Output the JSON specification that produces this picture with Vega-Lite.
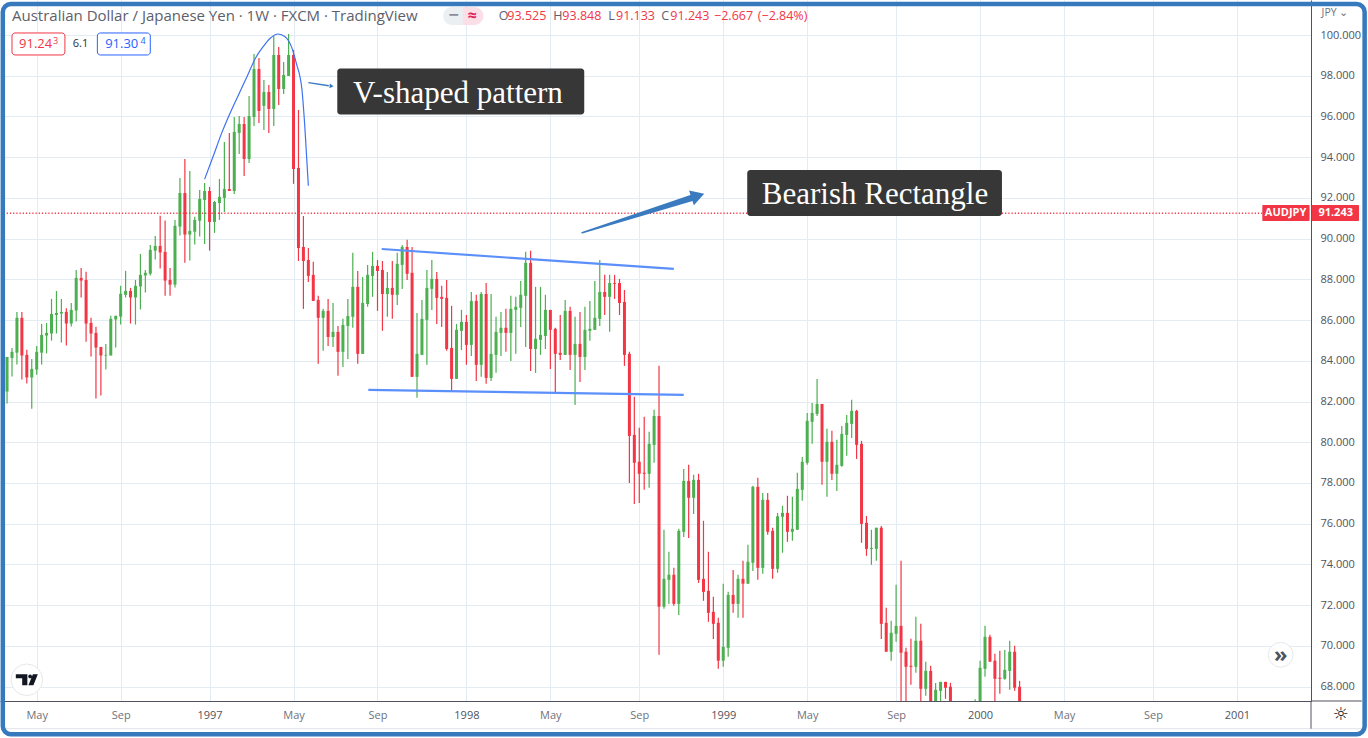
{
  "$schema": "https://vega.github.io/schema/vega-lite/v6.json",
  "width": 1311,
  "height": 701,
  "autosize": "none",
  "padding": {"left": 0, "top": 0, "right": 57, "bottom": 37},
  "background": "#ffffff",
  "config": {"view": {"stroke": null}},
  "datasets": {
    "candles": [
      {"w":"1996-03-25","o":82.49,"h":84.19,"l":81.90,"c":84.19},
      {"w":"1996-04-01","o":84.14,"h":84.63,"l":83.23,"c":84.44},
      {"w":"1996-04-08","o":84.40,"h":86.40,"l":83.82,"c":86.11},
      {"w":"1996-04-15","o":86.11,"h":86.40,"l":83.08,"c":84.26},
      {"w":"1996-04-22","o":84.29,"h":84.54,"l":82.88,"c":83.18},
      {"w":"1996-04-29","o":83.18,"h":84.09,"l":81.65,"c":83.60},
      {"w":"1996-05-06","o":83.57,"h":84.73,"l":83.32,"c":84.44},
      {"w":"1996-05-13","o":84.40,"h":85.81,"l":83.82,"c":85.27},
      {"w":"1996-05-20","o":85.24,"h":85.86,"l":84.36,"c":85.37},
      {"w":"1996-05-27","o":85.34,"h":87.04,"l":84.99,"c":86.30},
      {"w":"1996-06-03","o":86.25,"h":87.43,"l":85.34,"c":86.35},
      {"w":"1996-06-10","o":86.32,"h":87.04,"l":84.90,"c":86.40},
      {"w":"1996-06-17","o":86.40,"h":86.58,"l":84.75,"c":85.83},
      {"w":"1996-06-24","o":85.83,"h":86.84,"l":85.68,"c":86.50},
      {"w":"1996-07-01","o":86.47,"h":88.46,"l":85.93,"c":88.07},
      {"w":"1996-07-08","o":88.07,"h":88.56,"l":87.11,"c":87.94},
      {"w":"1996-07-15","o":87.97,"h":88.37,"l":84.94,"c":85.83},
      {"w":"1996-07-22","o":85.86,"h":86.11,"l":84.21,"c":85.34},
      {"w":"1996-07-29","o":85.37,"h":85.67,"l":82.15,"c":84.65},
      {"w":"1996-08-05","o":84.68,"h":84.68,"l":82.29,"c":84.26},
      {"w":"1996-08-12","o":84.26,"h":84.83,"l":83.57,"c":84.29},
      {"w":"1996-08-19","o":84.26,"h":86.21,"l":84.26,"c":86.06},
      {"w":"1996-08-26","o":86.03,"h":86.21,"l":84.65,"c":86.21},
      {"w":"1996-09-02","o":86.17,"h":87.68,"l":85.78,"c":87.29},
      {"w":"1996-09-09","o":87.24,"h":88.42,"l":87.11,"c":87.43},
      {"w":"1996-09-16","o":87.43,"h":87.58,"l":85.83,"c":87.11},
      {"w":"1996-09-23","o":87.11,"h":87.97,"l":85.78,"c":87.68},
      {"w":"1996-09-30","o":87.65,"h":89.25,"l":86.52,"c":88.22},
      {"w":"1996-10-07","o":88.19,"h":88.46,"l":87.35,"c":88.32},
      {"w":"1996-10-14","o":88.28,"h":89.69,"l":88.19,"c":89.45},
      {"w":"1996-10-21","o":89.41,"h":90.13,"l":88.97,"c":89.64},
      {"w":"1996-10-28","o":89.64,"h":91.12,"l":88.53,"c":89.32},
      {"w":"1996-11-04","o":89.35,"h":90.89,"l":87.20,"c":87.94},
      {"w":"1996-11-11","o":87.97,"h":88.56,"l":87.20,"c":87.74},
      {"w":"1996-11-18","o":87.74,"h":90.92,"l":87.60,"c":90.63},
      {"w":"1996-11-25","o":90.59,"h":92.98,"l":90.15,"c":92.24},
      {"w":"1996-12-02","o":92.24,"h":93.91,"l":88.82,"c":90.20},
      {"w":"1996-12-09","o":90.20,"h":93.32,"l":88.92,"c":90.38},
      {"w":"1996-12-16","o":90.34,"h":91.08,"l":89.71,"c":90.92},
      {"w":"1996-12-23","o":90.88,"h":92.39,"l":90.10,"c":91.95},
      {"w":"1996-12-30","o":91.90,"h":92.73,"l":89.74,"c":92.34},
      {"w":"1997-01-06","o":92.34,"h":92.54,"l":89.41,"c":90.82},
      {"w":"1997-01-13","o":90.82,"h":91.85,"l":90.28,"c":91.80},
      {"w":"1997-01-20","o":91.75,"h":92.93,"l":90.92,"c":92.05},
      {"w":"1997-01-27","o":92.00,"h":94.75,"l":91.31,"c":92.44},
      {"w":"1997-02-03","o":92.44,"h":95.19,"l":92.34,"c":92.34},
      {"w":"1997-02-10","o":92.34,"h":95.97,"l":92.19,"c":95.24},
      {"w":"1997-02-17","o":95.19,"h":96.02,"l":94.16,"c":95.63},
      {"w":"1997-02-24","o":95.63,"h":95.97,"l":93.08,"c":93.91},
      {"w":"1997-03-03","o":93.91,"h":97.01,"l":93.72,"c":96.02},
      {"w":"1997-03-10","o":95.97,"h":99.07,"l":95.53,"c":98.33},
      {"w":"1997-03-17","o":98.33,"h":98.87,"l":95.68,"c":96.27},
      {"w":"1997-03-24","o":96.52,"h":97.79,"l":95.34,"c":97.20},
      {"w":"1997-03-31","o":97.20,"h":97.55,"l":95.19,"c":96.37},
      {"w":"1997-04-07","o":96.37,"h":99.95,"l":95.53,"c":99.02},
      {"w":"1997-04-14","o":99.02,"h":99.41,"l":96.56,"c":97.35},
      {"w":"1997-04-21","o":97.35,"h":98.68,"l":97.10,"c":98.04},
      {"w":"1997-04-28","o":97.99,"h":100.05,"l":97.99,"c":99.02},
      {"w":"1997-05-05","o":99.02,"h":99.27,"l":92.69,"c":93.42},
      {"w":"1997-05-12","o":93.47,"h":96.32,"l":88.90,"c":89.54},
      {"w":"1997-05-19","o":89.59,"h":91.11,"l":86.55,"c":88.90},
      {"w":"1997-05-26","o":88.95,"h":89.54,"l":87.87,"c":88.17},
      {"w":"1997-06-02","o":88.22,"h":88.86,"l":86.94,"c":86.94},
      {"w":"1997-06-09","o":86.99,"h":87.19,"l":83.85,"c":86.11},
      {"w":"1997-06-16","o":86.11,"h":86.55,"l":84.49,"c":86.45},
      {"w":"1997-06-23","o":86.45,"h":87.04,"l":84.73,"c":85.17},
      {"w":"1997-06-30","o":85.17,"h":86.84,"l":84.68,"c":85.42},
      {"w":"1997-07-07","o":85.42,"h":85.71,"l":83.26,"c":84.44},
      {"w":"1997-07-14","o":84.44,"h":86.06,"l":83.70,"c":85.76},
      {"w":"1997-07-21","o":85.71,"h":87.04,"l":84.09,"c":86.20},
      {"w":"1997-07-28","o":86.16,"h":89.30,"l":85.62,"c":87.63},
      {"w":"1997-08-04","o":87.63,"h":88.41,"l":83.85,"c":84.34},
      {"w":"1997-08-11","o":84.34,"h":88.12,"l":84.34,"c":86.84},
      {"w":"1997-08-18","o":86.79,"h":88.71,"l":86.65,"c":88.22},
      {"w":"1997-08-25","o":88.17,"h":89.35,"l":87.14,"c":88.66},
      {"w":"1997-09-01","o":88.66,"h":88.95,"l":86.45,"c":88.41},
      {"w":"1997-09-08","o":88.46,"h":88.90,"l":85.47,"c":87.28},
      {"w":"1997-09-15","o":87.28,"h":88.36,"l":86.16,"c":87.58},
      {"w":"1997-09-22","o":87.58,"h":88.90,"l":86.06,"c":87.24},
      {"w":"1997-09-29","o":87.24,"h":89.30,"l":86.74,"c":88.76},
      {"w":"1997-10-06","o":88.71,"h":89.69,"l":87.53,"c":89.59},
      {"w":"1997-10-13","o":89.59,"h":89.94,"l":87.97,"c":88.27},
      {"w":"1997-10-20","o":88.32,"h":89.59,"l":83.21,"c":83.21},
      {"w":"1997-10-27","o":83.21,"h":86.35,"l":82.18,"c":84.34},
      {"w":"1997-11-03","o":84.29,"h":86.99,"l":84.29,"c":86.06},
      {"w":"1997-11-10","o":86.01,"h":88.46,"l":83.80,"c":87.58},
      {"w":"1997-11-17","o":87.53,"h":88.95,"l":86.50,"c":88.02},
      {"w":"1997-11-24","o":88.02,"h":88.36,"l":85.81,"c":87.09},
      {"w":"1997-12-01","o":87.14,"h":87.68,"l":85.66,"c":87.04},
      {"w":"1997-12-08","o":87.09,"h":87.97,"l":84.49,"c":84.58},
      {"w":"1997-12-15","o":84.63,"h":86.70,"l":82.52,"c":83.11},
      {"w":"1997-12-22","o":83.11,"h":85.81,"l":83.11,"c":85.52},
      {"w":"1997-12-29","o":85.47,"h":86.50,"l":84.53,"c":85.91},
      {"w":"1998-01-05","o":85.91,"h":86.25,"l":83.80,"c":84.78},
      {"w":"1998-01-12","o":84.78,"h":87.38,"l":84.24,"c":86.94},
      {"w":"1998-01-19","o":86.94,"h":87.24,"l":83.01,"c":83.80},
      {"w":"1998-01-26","o":83.80,"h":87.38,"l":83.21,"c":87.28},
      {"w":"1998-02-02","o":87.28,"h":87.82,"l":82.87,"c":83.16},
      {"w":"1998-02-09","o":83.16,"h":87.28,"l":83.01,"c":84.34},
      {"w":"1998-02-16","o":84.29,"h":86.16,"l":83.41,"c":85.42},
      {"w":"1998-02-23","o":85.37,"h":86.40,"l":84.24,"c":85.62},
      {"w":"1998-03-02","o":85.62,"h":86.55,"l":84.44,"c":85.37},
      {"w":"1998-03-09","o":85.37,"h":87.19,"l":83.99,"c":86.55},
      {"w":"1998-03-16","o":86.50,"h":87.14,"l":84.34,"c":86.65},
      {"w":"1998-03-23","o":86.60,"h":87.92,"l":85.66,"c":87.24},
      {"w":"1998-03-30","o":87.19,"h":89.35,"l":84.68,"c":88.81},
      {"w":"1998-04-06","o":88.81,"h":89.40,"l":83.50,"c":84.58},
      {"w":"1998-04-13","o":84.58,"h":87.63,"l":83.41,"c":85.08},
      {"w":"1998-04-20","o":85.03,"h":87.63,"l":84.29,"c":85.27},
      {"w":"1998-04-27","o":85.22,"h":87.24,"l":84.58,"c":86.50},
      {"w":"1998-05-04","o":86.50,"h":86.50,"l":83.60,"c":85.52},
      {"w":"1998-05-11","o":85.57,"h":85.62,"l":82.37,"c":84.34},
      {"w":"1998-05-18","o":84.39,"h":86.25,"l":84.04,"c":84.29},
      {"w":"1998-05-25","o":84.29,"h":86.99,"l":84.29,"c":86.45},
      {"w":"1998-06-01","o":86.45,"h":86.65,"l":83.55,"c":84.29},
      {"w":"1998-06-08","o":84.29,"h":86.16,"l":81.83,"c":84.83},
      {"w":"1998-06-15","o":84.83,"h":86.40,"l":82.96,"c":84.19},
      {"w":"1998-06-22","o":84.19,"h":86.65,"l":83.55,"c":85.52},
      {"w":"1998-06-29","o":85.47,"h":86.94,"l":84.98,"c":85.57},
      {"w":"1998-07-06","o":85.52,"h":87.92,"l":85.52,"c":86.11},
      {"w":"1998-07-13","o":86.06,"h":88.95,"l":85.71,"c":87.38},
      {"w":"1998-07-20","o":87.38,"h":88.22,"l":86.25,"c":87.14},
      {"w":"1998-07-27","o":87.14,"h":88.22,"l":85.42,"c":87.82},
      {"w":"1998-08-03","o":87.82,"h":88.22,"l":87.04,"c":87.78},
      {"w":"1998-08-10","o":87.82,"h":88.02,"l":86.25,"c":86.84},
      {"w":"1998-08-17","o":86.89,"h":87.48,"l":83.75,"c":84.29},
      {"w":"1998-08-24","o":84.34,"h":84.44,"l":78.00,"c":80.31},
      {"w":"1998-08-31","o":80.36,"h":82.23,"l":76.97,"c":78.99},
      {"w":"1998-09-07","o":79.04,"h":80.71,"l":77.02,"c":78.45},
      {"w":"1998-09-14","o":78.50,"h":81.25,"l":77.66,"c":78.45},
      {"w":"1998-09-21","o":78.45,"h":80.51,"l":77.76,"c":79.92},
      {"w":"1998-09-28","o":79.87,"h":81.59,"l":78.99,"c":81.29},
      {"w":"1998-10-05","o":81.29,"h":83.75,"l":69.56,"c":71.92},
      {"w":"1998-10-12","o":71.92,"h":75.70,"l":71.82,"c":73.29},
      {"w":"1998-10-19","o":73.24,"h":74.62,"l":72.06,"c":73.49},
      {"w":"1998-10-26","o":73.49,"h":73.83,"l":71.97,"c":72.06},
      {"w":"1998-11-02","o":72.06,"h":75.75,"l":71.52,"c":75.65},
      {"w":"1998-11-09","o":75.60,"h":78.69,"l":75.35,"c":78.10},
      {"w":"1998-11-16","o":78.10,"h":78.89,"l":75.30,"c":77.27},
      {"w":"1998-11-23","o":77.27,"h":78.40,"l":76.48,"c":78.15},
      {"w":"1998-11-30","o":78.15,"h":78.45,"l":73.09,"c":73.24},
      {"w":"1998-12-07","o":73.29,"h":76.14,"l":72.21,"c":72.65},
      {"w":"1998-12-14","o":72.70,"h":74.62,"l":71.18,"c":71.62},
      {"w":"1998-12-21","o":71.67,"h":72.41,"l":70.34,"c":71.08},
      {"w":"1998-12-28","o":71.13,"h":71.38,"l":68.87,"c":69.27},
      {"w":"1999-01-04","o":69.27,"h":73.05,"l":68.97,"c":69.95},
      {"w":"1999-01-11","o":69.90,"h":72.65,"l":69.46,"c":72.50},
      {"w":"1999-01-18","o":72.50,"h":73.73,"l":71.62,"c":72.06},
      {"w":"1999-01-25","o":72.06,"h":73.49,"l":71.38,"c":73.29},
      {"w":"1999-02-01","o":73.29,"h":74.18,"l":71.38,"c":73.05},
      {"w":"1999-02-08","o":73.05,"h":74.96,"l":73.05,"c":74.13},
      {"w":"1999-02-15","o":74.08,"h":77.86,"l":73.68,"c":77.81},
      {"w":"1999-02-22","o":77.81,"h":78.25,"l":73.24,"c":73.83},
      {"w":"1999-03-01","o":73.83,"h":77.51,"l":73.54,"c":77.17},
      {"w":"1999-03-08","o":77.17,"h":77.51,"l":75.45,"c":75.60},
      {"w":"1999-03-15","o":75.65,"h":75.80,"l":73.29,"c":73.78},
      {"w":"1999-03-22","o":73.78,"h":76.53,"l":73.59,"c":76.36},
      {"w":"1999-03-29","o":76.34,"h":76.88,"l":74.57,"c":76.53},
      {"w":"1999-04-05","o":76.53,"h":77.37,"l":75.11,"c":75.60},
      {"w":"1999-04-12","o":75.60,"h":77.32,"l":75.16,"c":75.75},
      {"w":"1999-04-19","o":75.70,"h":78.50,"l":75.70,"c":77.71},
      {"w":"1999-04-26","o":77.66,"h":79.28,"l":77.12,"c":79.04},
      {"w":"1999-05-03","o":78.99,"h":81.44,"l":78.89,"c":81.05},
      {"w":"1999-05-10","o":81.00,"h":81.93,"l":79.92,"c":81.44},
      {"w":"1999-05-17","o":81.39,"h":83.11,"l":81.29,"c":81.88},
      {"w":"1999-05-24","o":81.88,"h":81.88,"l":77.91,"c":79.04},
      {"w":"1999-05-31","o":79.04,"h":80.66,"l":77.32,"c":80.02},
      {"w":"1999-06-07","o":80.02,"h":80.56,"l":78.15,"c":78.45},
      {"w":"1999-06-14","o":78.45,"h":80.12,"l":77.61,"c":78.89},
      {"w":"1999-06-21","o":78.84,"h":80.80,"l":78.79,"c":80.41},
      {"w":"1999-06-28","o":80.36,"h":81.34,"l":79.33,"c":80.95},
      {"w":"1999-07-05","o":80.90,"h":82.08,"l":80.21,"c":81.54},
      {"w":"1999-07-12","o":81.54,"h":81.59,"l":79.18,"c":79.87},
      {"w":"1999-07-19","o":79.92,"h":80.07,"l":75.06,"c":75.99},
      {"w":"1999-07-26","o":76.04,"h":76.38,"l":74.42,"c":74.76},
      {"w":"1999-08-02","o":74.76,"h":75.70,"l":73.98,"c":74.81},
      {"w":"1999-08-09","o":74.76,"h":75.80,"l":74.18,"c":75.80},
      {"w":"1999-08-16","o":75.80,"h":75.89,"l":70.34,"c":71.08},
      {"w":"1999-08-23","o":71.13,"h":71.87,"l":69.71,"c":69.71},
      {"w":"1999-08-30","o":69.71,"h":71.23,"l":69.27,"c":70.64},
      {"w":"1999-09-06","o":70.59,"h":73.00,"l":70.20,"c":70.98},
      {"w":"1999-09-13","o":70.98,"h":74.18,"l":67.10,"c":69.66},
      {"w":"1999-09-20","o":69.71,"h":69.90,"l":67.10,"c":68.97},
      {"w":"1999-09-27","o":69.02,"h":70.35,"l":68.09,"c":68.97},
      {"w":"1999-10-04","o":68.97,"h":71.43,"l":68.68,"c":70.25},
      {"w":"1999-10-11","o":70.25,"h":71.08,"l":67.10,"c":67.89},
      {"w":"1999-10-18","o":67.89,"h":69.22,"l":67.55,"c":68.77},
      {"w":"1999-10-25","o":68.77,"h":69.02,"l":66.86,"c":67.10},
      {"w":"1999-11-01","o":67.10,"h":68.18,"l":66.86,"c":67.84},
      {"w":"1999-11-08","o":67.79,"h":68.23,"l":67.10,"c":68.23},
      {"w":"1999-11-15","o":68.23,"h":68.23,"l":67.40,"c":67.94},
      {"w":"1999-11-22","o":67.99,"h":68.18,"l":66.86,"c":67.10},
      {"w":"1999-11-29","o":67.10,"h":67.20,"l":66.30,"c":66.60},
      {"w":"1999-12-06","o":66.60,"h":67.10,"l":66.30,"c":66.90},
      {"w":"1999-12-13","o":66.90,"h":67.20,"l":66.00,"c":66.30},
      {"w":"1999-12-20","o":66.30,"h":66.90,"l":66.00,"c":66.70},
      {"w":"1999-12-27","o":66.70,"h":67.38,"l":66.40,"c":67.10},
      {"w":"2000-01-03","o":67.10,"h":69.27,"l":66.61,"c":68.92},
      {"w":"2000-01-10","o":68.87,"h":70.98,"l":68.48,"c":70.44},
      {"w":"2000-01-17","o":70.44,"h":70.54,"l":69.22,"c":69.22},
      {"w":"2000-01-24","o":69.27,"h":69.61,"l":67.10,"c":68.38},
      {"w":"2000-01-31","o":68.43,"h":69.76,"l":67.64,"c":68.38},
      {"w":"2000-02-07","o":68.38,"h":69.80,"l":68.33,"c":68.82},
      {"w":"2000-02-14","o":68.77,"h":70.25,"l":67.84,"c":69.71},
      {"w":"2000-02-21","o":69.71,"h":70.00,"l":67.79,"c":67.94},
      {"w":"2000-02-28","o":67.99,"h":68.28,"l":66.86,"c":67.10}
    ],
    "trendlines": [
      {"name":"top","w":"1997-09-07","p":89.49},
      {"name":"top","w":"1998-10-26","p":88.51},
      {"name":"bottom","w":"1997-08-19","p":82.57},
      {"name":"bottom","w":"1998-11-09","p":82.33}
    ],
    "arc": [
      {"w":"1996-12-30","p":92.92},
      {"w":"1997-01-11","p":94.03},
      {"w":"1997-01-23","p":95.17},
      {"w":"1997-02-04","p":96.16},
      {"w":"1997-02-16","p":97.06},
      {"w":"1997-02-28","p":97.95},
      {"w":"1997-03-12","p":98.86},
      {"w":"1997-03-23","p":99.43},
      {"w":"1997-04-02","p":99.84},
      {"w":"1997-04-13","p":100.05},
      {"w":"1997-04-23","p":99.92},
      {"w":"1997-05-02","p":99.43},
      {"w":"1997-05-09","p":98.61},
      {"w":"1997-05-17","p":97.30},
      {"w":"1997-05-21","p":95.50},
      {"w":"1997-05-26","p":92.60}
    ]
  },
  "encoding": {
    "x": {
      "field": "w",
      "type": "temporal",
      "scale": {"type": "utc", "domain": ["1996-03-15", "2001-04-16"], "nice": false, "padding": 0},
      "axis": {
        "title": null,
        "grid": true,
        "gridColor": "#e4ecf3",
        "gridWidth": 1,
        "ticks": false,
        "domainColor": "#50535e",
        "domainWidth": 1,
        "labelFont": "Open Sans",
        "labelFontSize": 11,
        "labelColor": {"condition": {"test": "utcmonth(datum.value) === 0", "value": "#50535e"}, "value": "#6f727c"},
        "labelPadding": 8,
        "labelOverlap": false,
        "labelFlush": false,
        "values": ["1996-05-06", "1996-09-02", "1997-01-06", "1997-05-05", "1997-09-01", "1998-01-05", "1998-05-04", "1998-09-07", "1999-01-04", "1999-05-03", "1999-09-06", "2000-01-03", "2000-05-01", "2000-09-04", "2001-01-01"],
        "labelExpr": "utcmonth(datum.value) === 0 ? utcFormat(datum.value, '%Y') : utcFormat(datum.value, '%b')"
      }
    },
    "y": {
      "field": "p",
      "type": "quantitative",
      "scale": {"domain": [67.29, 101.72], "nice": false, "zero": false},
      "axis": {
        "orient": "right",
        "title": null,
        "grid": true,
        "gridColor": "#e4ecf3",
        "gridWidth": 1,
        "ticks": false,
        "domainColor": "#50535e",
        "domainWidth": 1,
        "labelFont": "Open Sans",
        "labelFontSize": 11,
        "labelColor": "#50535e",
        "labelPadding": 9,
        "labelOverlap": false,
        "labelFlush": false,
        "format": ".3f",
        "values": [68, 70, 72, 74, 76, 78, 80, 82, 84, 86, 88, 90, 92, 94, 96, 98, 100]
      }
    }
  },
  "layer": [
    {
      "data": {"name": "candles"},
      "mark": {"type": "rule", "strokeWidth": 1.2, "clip": true},
      "encoding": {
        "y": {
          "field": "l",
          "type": "quantitative",
          "axis": {
            "orient": "right",
            "title": null,
            "grid": true,
            "gridColor": "#e4ecf3",
            "gridWidth": 1,
            "ticks": false,
            "domainColor": "#50535e",
            "domainWidth": 1,
            "labelFont": "Open Sans",
            "labelFontSize": 11,
            "labelColor": "#50535e",
            "labelPadding": 9,
            "labelOverlap": false,
            "labelFlush": false,
            "format": ".3f",
            "values": [68, 70, 72, 74, 76, 78, 80, 82, 84, 86, 88, 90, 92, 94, 96, 98, 100]
          }
        },
        "y2": {"field": "h"},
        "color": {"condition": {"test": "datum.c >= datum.o", "value": "#4caf50"}, "value": "#f23645"}
      }
    },
    {
      "data": {"name": "candles"},
      "mark": {"type": "bar", "size": 3, "clip": true},
      "encoding": {
        "y": {
          "field": "o",
          "type": "quantitative",
          "axis": {
            "orient": "right",
            "title": null,
            "grid": true,
            "gridColor": "#e4ecf3",
            "gridWidth": 1,
            "ticks": false,
            "domainColor": "#50535e",
            "domainWidth": 1,
            "labelFont": "Open Sans",
            "labelFontSize": 11,
            "labelColor": "#50535e",
            "labelPadding": 9,
            "labelOverlap": false,
            "labelFlush": false,
            "format": ".3f",
            "values": [68, 70, 72, 74, 76, 78, 80, 82, 84, 86, 88, 90, 92, 94, 96, 98, 100]
          }
        },
        "y2": {"field": "c"},
        "color": {"condition": {"test": "datum.c >= datum.o", "value": "#4caf50"}, "value": "#f23645"}
      }
    },
    {
      "data": {"values": [{"w": "1996-03-20", "w2": "2001-02-06", "p": 91.243}]},
      "mark": {"type": "rule", "color": "#f23645", "strokeWidth": 1.4, "strokeDash": [1.2, 2]},
      "encoding": {"x2": {"field": "w2"}}
    },
    {
      "data": {"name": "trendlines"},
      "mark": {"type": "line", "color": "#5b8ff9", "strokeWidth": 2.2},
      "encoding": {"detail": {"field": "name"}}
    },
    {
      "data": {"name": "arc"},
      "mark": {"type": "line", "color": "#3f72f0", "strokeWidth": 1.2, "interpolate": "monotone"},
      "encoding": {}
    },
    {
      "data": {"values": [{"w": "1997-05-26", "p": 97.66}, {"w": "1997-06-24", "p": 97.51}]},
      "mark": {"type": "line", "color": "#3a7abf", "strokeWidth": 1.4},
      "encoding": {}
    },
    {
      "data": {"values": [{"w": "1997-06-28", "p": 97.49}]},
      "mark": {"type": "point", "shape": "triangle-right", "filled": true, "color": "#3a7abf", "size": 22, "opacity": 1, "angle": 5},
      "encoding": {}
    },
    {
      "data": {"values": [{"w": "1998-06-18", "p": 90.29}, {"w": "1998-11-25", "p": 92.05}]},
      "mark": {"type": "trail", "color": "#3a7abf"},
      "encoding": {
        "size": {"field": "w", "type": "temporal", "scale": {"range": [1.5, 6.5]}, "legend": null}
      }
    },
    {
      "data": {"values": [{"w": "1998-11-29", "p": 92.10}]},
      "mark": {"type": "point", "shape": "triangle-right", "filled": true, "color": "#3a7abf", "size": 240, "opacity": 1, "angle": -18},
      "encoding": {}
    },
    {
      "data": {"values": [
        {"w": "1997-07-06", "w2": "1998-06-21", "p": 98.35, "p2": 96.10},
        {"w": "1999-02-07", "w2": "2000-02-03", "p": 93.37, "p2": 91.11}
      ]},
      "mark": {"type": "rect", "color": "#333333", "opacity": 0.98, "cornerRadius": 3},
      "encoding": {"x2": {"field": "w2"}, "y2": {"field": "p2"}}
    },
    {
      "data": {"values": [
        {"w": "1997-12-24", "p": 97.20, "label": "V-shaped pattern"},
        {"w": "1999-08-07", "p": 92.24, "label": "Bearish Rectangle"}
      ]},
      "mark": {"type": "text", "font": "Liberation Serif", "fontSize": 31, "color": "#ffffff", "align": "center", "baseline": "middle", "letterSpacing": 0.6, "dy": 1.5},
      "encoding": {"text": {"field": "label"}}
    },
    {
      "data": {"values": [{"w": "1996-04-01", "p": 100.93, "label": "Australian Dollar / Japanese Yen · 1W · FXCM · TradingView"}]},
      "mark": {"type": "text", "font": "Open Sans", "fontSize": 15, "letterSpacing": 0.36, "color": "#5d606b", "align": "left", "baseline": "middle"},
      "encoding": {"text": {"field": "label"}}
    },
    {
      "data": {"values": [{"w": "1997-12-03", "w2": "1997-12-31", "p": 101.38, "p2": 100.49}]},
      "mark": {"type": "rect", "color": "#eceff2", "cornerRadiusTopLeft": 9, "cornerRadiusBottomLeft": 9},
      "encoding": {"x2": {"field": "w2"}, "y2": {"field": "p2"}}
    },
    {
      "data": {"values": [{"w": "1997-12-31", "w2": "1998-01-29", "p": 101.38, "p2": 100.49}]},
      "mark": {"type": "rect", "color": "#fbdfe6", "cornerRadiusTopRight": 9, "cornerRadiusBottomRight": 9},
      "encoding": {"x2": {"field": "w2"}, "y2": {"field": "p2"}}
    },
    {
      "data": {"values": [{"w": "1997-12-18", "p": 100.93, "label": "−"}]},
      "mark": {"type": "text", "font": "Open Sans", "fontSize": 18, "fontWeight": "bold", "color": "#8a8d96", "align": "center", "baseline": "middle"},
      "encoding": {"text": {"field": "label"}}
    },
    {
      "data": {"values": [{"w": "1998-01-13", "p": 100.93, "label": "≈"}]},
      "mark": {"type": "text", "font": "Open Sans", "fontSize": 16, "fontWeight": "bold", "color": "#e0245e", "align": "center", "baseline": "middle"},
      "encoding": {"text": {"field": "label"}}
    },
    {
      "data": {"values": [
        {"w": "1998-02-20", "p": 100.93, "label": "O"},
        {"w": "1998-05-08", "p": 100.93, "label": "H"},
        {"w": "1998-07-25", "p": 100.93, "label": "L"},
        {"w": "1998-10-08", "p": 100.93, "label": "C"}
      ]},
      "mark": {"type": "text", "font": "Open Sans", "fontSize": 12.5, "color": "#5d606b", "align": "left", "baseline": "middle"},
      "encoding": {"text": {"field": "label"}}
    },
    {
      "data": {"values": [
        {"w": "1998-03-04", "p": 100.93, "label": "93.525"},
        {"w": "1998-05-21", "p": 100.93, "label": "93.848"},
        {"w": "1998-08-05", "p": 100.93, "label": "91.133"},
        {"w": "1998-10-21", "p": 100.93, "label": "91.243"},
        {"w": "1998-12-22", "p": 100.93, "label": "−2.667"},
        {"w": "1999-02-22", "p": 100.93, "label": "(−2.84%)"}
      ]},
      "mark": {"type": "text", "font": "Open Sans", "fontSize": 12.5, "color": "#f23645", "align": "left", "baseline": "middle"},
      "encoding": {"text": {"field": "label"}}
    },
    {
      "data": {"values": [{"w": "1996-04-01", "w2": "1996-06-15", "p": 100.10, "p2": 99.02}]},
      "mark": {"type": "rect", "fill": "#ffffff", "stroke": "#f23645", "strokeWidth": 1, "cornerRadius": 3},
      "encoding": {"x2": {"field": "w2"}, "y2": {"field": "p2"}}
    },
    {
      "data": {"values": [{"w": "1996-07-31", "w2": "1996-10-14", "p": 100.10, "p2": 99.02}]},
      "mark": {"type": "rect", "fill": "#ffffff", "stroke": "#2962ff", "strokeWidth": 1, "cornerRadius": 3},
      "encoding": {"x2": {"field": "w2"}, "y2": {"field": "p2"}}
    },
    {
      "data": {"values": [{"w": "1996-04-11", "p": 99.56, "label": "91.24"}]},
      "mark": {"type": "text", "font": "Open Sans", "fontSize": 13, "color": "#f23645", "align": "left", "baseline": "middle"},
      "encoding": {"text": {"field": "label"}}
    },
    {
      "data": {"values": [{"w": "1996-05-29", "p": 99.71, "label": "3"}]},
      "mark": {"type": "text", "font": "Open Sans", "fontSize": 9, "color": "#f23645", "align": "left", "baseline": "middle"},
      "encoding": {"text": {"field": "label"}}
    },
    {
      "data": {"values": [{"w": "1996-08-11", "p": 99.56, "label": "91.30"}]},
      "mark": {"type": "text", "font": "Open Sans", "fontSize": 13, "color": "#2962ff", "align": "left", "baseline": "middle"},
      "encoding": {"text": {"field": "label"}}
    },
    {
      "data": {"values": [{"w": "1996-09-30", "p": 99.71, "label": "4"}]},
      "mark": {"type": "text", "font": "Open Sans", "fontSize": 9, "color": "#2962ff", "align": "left", "baseline": "middle"},
      "encoding": {"text": {"field": "label"}}
    },
    {
      "data": {"values": [{"w": "1996-07-07", "p": 99.56, "label": "6.1"}]},
      "mark": {"type": "text", "font": "Open Sans", "fontSize": 11, "color": "#2a2e39", "align": "center", "baseline": "middle"},
      "encoding": {"text": {"field": "label"}}
    },
    {
      "data": {"values": [{"w": "2001-02-06", "w2": "2001-04-14", "p": 91.65, "p2": 90.87}]},
      "mark": {"type": "rect", "color": "#f23645", "cornerRadius": 1},
      "encoding": {"x2": {"field": "w2"}, "y2": {"field": "p2"}}
    },
    {
      "data": {"values": [{"w": "2001-04-17", "w2": "2001-06-23", "p": 91.65, "p2": 90.87}]},
      "mark": {"type": "rect", "color": "#f23645", "cornerRadius": 1},
      "encoding": {"x2": {"field": "w2"}, "y2": {"field": "p2"}}
    },
    {
      "data": {"values": [
        {"w": "2001-03-11", "p": 91.243, "label": "AUDJPY"},
        {"w": "2001-05-21", "p": 91.243, "label": "91.243"}
      ]},
      "mark": {"type": "text", "font": "Open Sans", "fontSize": 11, "fontWeight": "bold", "color": "#ffffff", "align": "center", "baseline": "middle"},
      "encoding": {"text": {"field": "label"}}
    },
    {
      "data": {"values": [{"w": "2001-05-01", "p": 101.08, "label": "JPY ⌄"}]},
      "mark": {"type": "text", "font": "Open Sans", "fontSize": 10.5, "color": "#6f727c", "align": "left", "baseline": "middle"},
      "encoding": {"text": {"field": "label"}}
    },
    {
      "data": {"values": [{"w": "2001-03-04", "p": 69.56}]},
      "mark": {"type": "point", "shape": "circle", "filled": true, "fill": "#ffffff", "stroke": "#e6e8ec", "strokeWidth": 1, "size": 616, "opacity": 1},
      "encoding": {}
    },
    {
      "data": {"values": [{"w": "2001-03-04", "p": 69.56, "label": "»"}]},
      "mark": {"type": "text", "font": "Open Sans", "fontSize": 22, "fontWeight": "bold", "color": "#50535e", "align": "center", "baseline": "middle"},
      "encoding": {"text": {"field": "label"}}
    },
    {
      "data": {"values": [{"w": "1996-04-22", "p": 68.33}]},
      "mark": {"type": "point", "shape": "circle", "filled": true, "fill": "#ffffff", "stroke": "#e6e8ec", "strokeWidth": 1, "size": 1000, "opacity": 1},
      "encoding": {}
    },
    {
      "data": {"values": [{"w": "1996-04-22", "p": 68.33}]},
      "mark": {"type": "point", "shape": "M-1 -0.5H0.05V0.5H-0.42V-0.15H-1Z M0.55 -0.5H1L0.6 0.5H0.15Z M0.3 -0.48A0.17 0.17 0 1 1 0.3 -0.14A0.17 0.17 0 1 1 0.3 -0.48Z", "filled": true, "color": "#131722", "size": 484, "opacity": 1},
      "encoding": {}
    },
    {
      "data": {"values": [{"w": "2001-05-28", "p": 66.61, "label": "☼"}]},
      "mark": {"type": "text", "font": "DejaVu Sans", "fontSize": 18, "color": "#131722", "align": "center", "baseline": "middle"},
      "encoding": {"text": {"field": "label"}}
    },
    {
      "data": {"values": [{"w": "1996-03-20", "w2": "2001-06-27", "p": 65.93}]},
      "mark": {"type": "rule", "color": "#e0e3eb", "strokeWidth": 1},
      "encoding": {"x2": {"field": "w2"}}
    },
    {
      "data": {"values": [{"w": "2001-04-16", "w2": "2001-06-27", "p": 67.29}]},
      "mark": {"type": "rule", "color": "#50535e", "strokeWidth": 1},
      "encoding": {"x2": {"field": "w2"}}
    },
    {
      "data": {"values": [{"w": "2001-04-16", "p": 67.29, "p2": 65.93}]},
      "mark": {"type": "rule", "color": "#50535e", "strokeWidth": 1},
      "encoding": {"y2": {"field": "p2"}}
    },
    {
      "data": {"values": [{"w": "1996-03-19", "w2": "2001-07-01", "p": 101.52, "p2": 65.66}]},
      "mark": {"type": "rect", "fill": null, "stroke": "#3679bd", "strokeWidth": 4.5, "cornerRadius": 8},
      "encoding": {"x2": {"field": "w2"}, "y2": {"field": "p2"}}
    }
  ]
}
